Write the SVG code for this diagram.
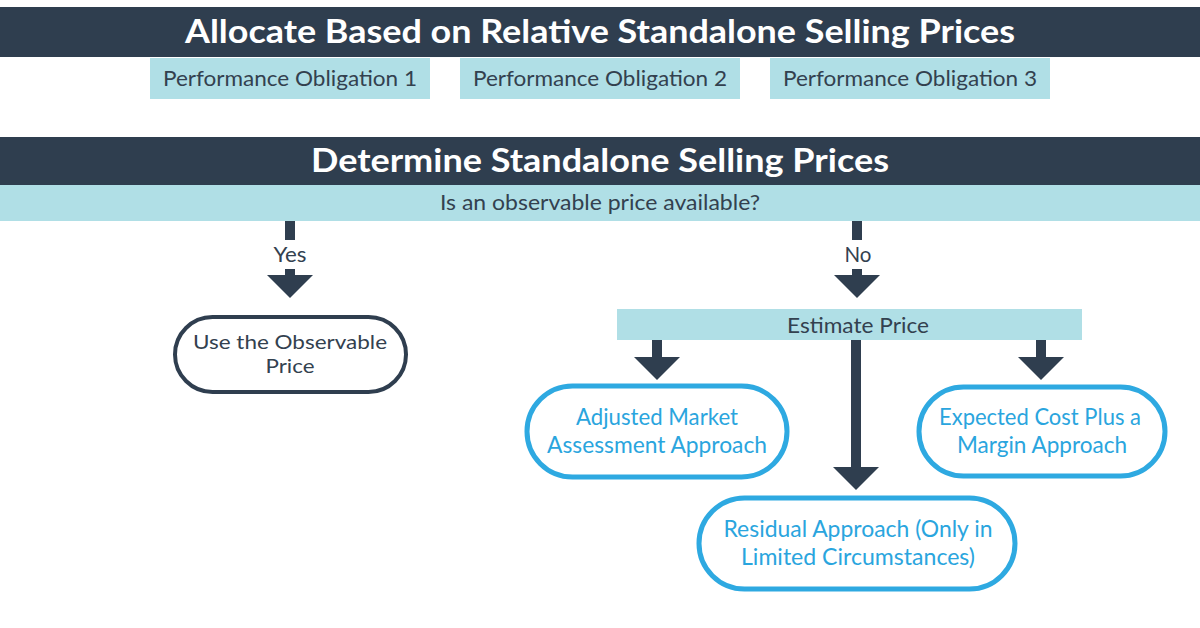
<svg xmlns="http://www.w3.org/2000/svg" width="1200" height="628" viewBox="0 0 1200 628">
<style>
.bar{fill:#2f3e4f}
.lb{fill:#b0dfe6}
.ttl{font-family:Lato,"Noto Sans",sans-serif;font-weight:bold;font-size:32px;fill:#fff;text-anchor:middle}
.t{font-family:Lato,"Noto Sans",sans-serif;font-size:22px;fill:#33414f;text-anchor:middle}
.ts{font-family:Lato,"Noto Sans",sans-serif;font-size:20px;fill:#33414f;text-anchor:middle}
.tb{font-family:Lato,"Noto Sans",sans-serif;font-size:23px;fill:#2aa5de;text-anchor:middle}
.pd{fill:#fff;stroke:#2f3e4f;stroke-width:4}
.pb{fill:#fff;stroke:#2ea9e1;stroke-width:5}
.ar{fill:#2f3e4f}
</style>
<rect width="1200" height="628" fill="#fff"/>
<g id="allocate">
<rect class="bar" x="0" y="7" width="1200" height="50"/>
<text class="ttl" x="600" y="43" textLength="830" lengthAdjust="spacingAndGlyphs">Allocate Based on Relative Standalone Selling Prices</text>
</g>
<g id="po1"><rect class="lb" x="150" y="58" width="280" height="41"/><text class="t" x="290" y="86" textLength="254" lengthAdjust="spacingAndGlyphs">Performance Obligation 1</text></g>
<g id="po2"><rect class="lb" x="460" y="58" width="280" height="41"/><text class="t" x="600" y="86" textLength="254" lengthAdjust="spacingAndGlyphs">Performance Obligation 2</text></g>
<g id="po3"><rect class="lb" x="770" y="58" width="280" height="41"/><text class="t" x="910" y="86" textLength="254" lengthAdjust="spacingAndGlyphs">Performance Obligation 3</text></g>
<g id="determine">
<rect class="bar" x="0" y="137" width="1200" height="48"/>
<text class="ttl" x="600" y="172" textLength="578" lengthAdjust="spacingAndGlyphs">Determine Standalone Selling Prices</text>
</g>
<g id="question">
<rect class="lb" x="0" y="185" width="1200" height="36"/>
<text class="t" x="600" y="210" textLength="320" lengthAdjust="spacingAndGlyphs">Is an observable price available?</text>
</g>
<g id="connectors">
<rect class="ar" x="285" y="221" width="10" height="19"/>
<text class="t" x="290" y="262" textLength="33" lengthAdjust="spacingAndGlyphs">Yes</text>
<rect class="ar" x="285" y="269" width="10" height="7"/>
<polygon class="ar" points="267,275 313,275 290,298"/>
<rect class="ar" x="852" y="221" width="10" height="19"/>
<text class="t" x="858" y="262" textLength="27" lengthAdjust="spacingAndGlyphs">No</text>
<rect class="ar" x="852" y="269" width="10" height="7"/>
<polygon class="ar" points="834,275 880,275 857,298"/>
<rect class="ar" x="652" y="340" width="10" height="18"/>
<polygon class="ar" points="634,357 680,357 657,380"/>
<rect class="ar" x="851" y="340" width="10" height="128"/>
<polygon class="ar" points="833,467 879,467 856,490"/>
<rect class="ar" x="1036" y="340" width="10" height="18"/>
<polygon class="ar" points="1018,357 1064,357 1041,380"/>
</g>
<g id="observable">
<rect class="pd" x="175" y="317" width="231" height="75" rx="37.5"/>
<text class="ts" x="290" y="349" textLength="194" lengthAdjust="spacingAndGlyphs">Use the Observable</text>
<text class="ts" x="290" y="373" textLength="49" lengthAdjust="spacingAndGlyphs">Price</text>
</g>
<g id="estimate">
<rect class="lb" x="617" y="309" width="465" height="31"/>
<text class="t" x="858" y="333" textLength="142" lengthAdjust="spacingAndGlyphs">Estimate Price</text>
</g>
<g id="adjusted">
<rect class="pb" x="527" y="386" width="260" height="91" rx="45.5"/>
<text class="tb" x="657" y="425" textLength="162" lengthAdjust="spacingAndGlyphs">Adjusted Market</text>
<text class="tb" x="657" y="453" textLength="220" lengthAdjust="spacingAndGlyphs">Assessment Approach</text>
</g>
<g id="expected">
<rect class="pb" x="919" y="387" width="246" height="89" rx="44.5"/>
<text class="tb" x="1040" y="425" textLength="202" lengthAdjust="spacingAndGlyphs">Expected Cost Plus a</text>
<text class="tb" x="1042" y="453" textLength="170" lengthAdjust="spacingAndGlyphs">Margin Approach</text>
</g>
<g id="residual">
<rect class="pb" x="699" y="498" width="316" height="91" rx="45.5"/>
<text class="tb" x="858" y="537" textLength="269" lengthAdjust="spacingAndGlyphs">Residual Approach (Only in</text>
<text class="tb" x="858" y="565" textLength="234" lengthAdjust="spacingAndGlyphs">Limited Circumstances)</text>
</g>
</svg>
